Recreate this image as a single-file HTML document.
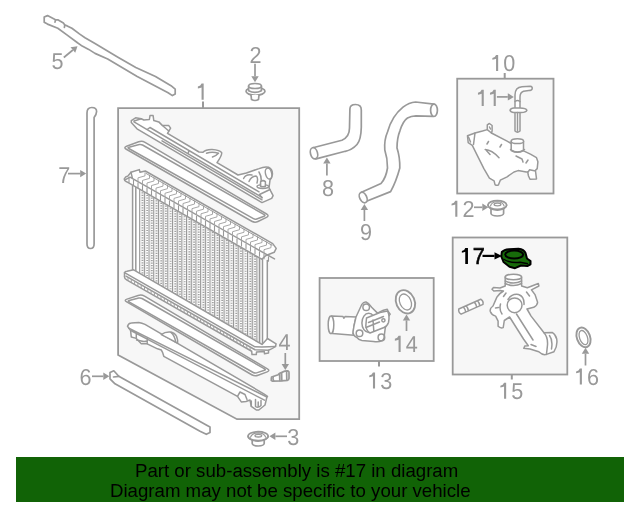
<!DOCTYPE html>
<html><head><meta charset="utf-8"><style>
html,body{margin:0;padding:0;background:#fff;width:640px;height:512px;overflow:hidden}
svg{position:absolute;left:0;top:0}
.banner{position:absolute;left:16px;top:457px;width:608px;height:45px;background:#116306}
.t{will-change:transform;position:absolute;font-family:"Liberation Sans",sans-serif;font-size:18.65px;color:#000;white-space:nowrap;line-height:20px}
</style></head><body>
<div class="banner"></div>
<div class="t" id="l1" style="left:135.2px;top:460.6px">Part or sub-assembly is #17 in diagram</div>
<div class="t" id="l2" style="left:110.3px;top:480.6px">Diagram may not be specific to your vehicle</div>
<svg width="640" height="512" viewBox="0 0 640 512" style="will-change:transform">
<g fill="#f7f7f7" stroke="#999" stroke-width="1.8">
<polygon points="118.1,108.1 299.2,108.1 299.2,419.2 237,419.2 118.1,355"/>
<rect x="457.2" y="78.7" width="96.3" height="114.8"/>
<rect x="319.6" y="278" width="114.1" height="83"/>
<rect x="452.7" y="237.5" width="114.6" height="137"/>
</g>
<g stroke="#999" stroke-width="2">
<line x1="203" y1="101.5" x2="203" y2="108"/>
<line x1="504.7" y1="73" x2="504.7" y2="79"/>
<line x1="379" y1="361" x2="379" y2="366.5"/>
<line x1="511.8" y1="374.5" x2="511.8" y2="379.5"/>
</g>
<g font-family="Liberation Sans" style="text-rendering:geometricPrecision">
<path d="M201.57,83.53 L203.67,83.53 L203.67,99.70 L201.57,99.70 L201.57,87.43 Q200.40,88.03 197.87,88.43 L197.87,86.53 Q200.76,85.83 201.57,83.53 Z" fill="#999"/>
<text transform="translate(255.60 62.90) scale(0.94 1)" text-anchor="middle" font-size="23" fill="#999">2</text>
<text transform="translate(293.30 445.40) scale(0.94 1)" text-anchor="middle" font-size="23" fill="#999">3</text>
<text transform="translate(284.50 350.00) scale(0.94 1)" text-anchor="middle" font-size="23" fill="#999">4</text>
<text transform="translate(57.50 69.20) scale(0.94 1)" text-anchor="middle" font-size="23" fill="#999">5</text>
<text transform="translate(85.40 385.40) scale(0.94 1)" text-anchor="middle" font-size="23" fill="#999">6</text>
<text transform="translate(64.30 183.10) scale(0.94 1)" text-anchor="middle" font-size="23" fill="#999">7</text>
<text transform="translate(328.00 196.40) scale(0.94 1)" text-anchor="middle" font-size="23" fill="#999">8</text>
<text transform="translate(366.00 240.40) scale(0.94 1)" text-anchor="middle" font-size="23" fill="#999">9</text>
<path d="M496.06,54.93 L498.16,54.93 L498.16,71.10 L496.06,71.10 L496.06,58.83 Q494.89,59.43 492.36,59.83 L492.36,57.93 Q495.25,57.23 496.06,54.93 Z" fill="#999"/>
<text transform="translate(509.31 71.40) scale(0.94 1)" text-anchor="middle" font-size="23" fill="#999">0</text>
<path d="M481.66,89.73 L483.76,89.73 L483.76,105.90 L481.66,105.90 L481.66,93.63 Q480.49,94.23 477.96,94.63 L477.96,92.73 Q480.85,92.03 481.66,89.73 Z" fill="#999"/>
<path d="M493.68,89.73 L495.78,89.73 L495.78,105.90 L493.68,105.90 L493.68,93.63 Q492.51,94.23 489.98,94.63 L489.98,92.73 Q492.87,92.03 493.68,89.73 Z" fill="#999"/>
<path d="M455.26,200.63 L457.36,200.63 L457.36,216.80 L455.26,216.80 L455.26,204.53 Q454.09,205.13 451.56,205.53 L451.56,203.63 Q454.45,202.93 455.26,200.63 Z" fill="#999"/>
<text transform="translate(468.51 217.10) scale(0.94 1)" text-anchor="middle" font-size="23" fill="#999">2</text>
<path d="M372.96,372.43 L375.06,372.43 L375.06,388.60 L372.96,388.60 L372.96,376.33 Q371.79,376.93 369.26,377.33 L369.26,375.43 Q372.15,374.73 372.96,372.43 Z" fill="#999"/>
<text transform="translate(386.21 388.90) scale(0.94 1)" text-anchor="middle" font-size="23" fill="#999">3</text>
<path d="M398.56,335.73 L400.66,335.73 L400.66,351.90 L398.56,351.90 L398.56,339.63 Q397.39,340.23 394.86,340.63 L394.86,338.73 Q397.75,338.03 398.56,335.73 Z" fill="#999"/>
<text transform="translate(411.81 352.20) scale(0.94 1)" text-anchor="middle" font-size="23" fill="#999">4</text>
<path d="M504.06,382.68 L506.16,382.68 L506.16,398.85 L504.06,398.85 L504.06,386.58 Q502.89,387.18 500.36,387.58 L500.36,385.68 Q503.25,384.98 504.06,382.68 Z" fill="#999"/>
<text transform="translate(517.31 399.15) scale(0.94 1)" text-anchor="middle" font-size="23" fill="#999">5</text>
<path d="M579.81,368.43 L581.91,368.43 L581.91,384.60 L579.81,384.60 L579.81,372.33 Q578.64,372.93 576.11,373.33 L576.11,371.43 Q579.00,370.73 579.81,368.43 Z" fill="#999"/>
<text transform="translate(593.06 384.90) scale(0.94 1)" text-anchor="middle" font-size="23" fill="#999">6</text>
<path d="M465.26,247.93 L467.96,247.93 L467.96,264.10 L465.26,264.10 L465.26,251.83 Q464.39,252.43 461.86,252.83 L461.86,250.93 Q464.75,250.23 465.26,247.93 Z" fill="#000"/>
<text transform="translate(478.81 264.40) scale(0.94 1)" text-anchor="middle" font-size="23" fill="#000" stroke="#000" stroke-width="0.6">7</text>
</g>
<line x1="255.00" y1="63.80" x2="255.00" y2="76.20" stroke="#999" stroke-width="1.7"/>
<polygon points="255.00,82.20 251.30,76.20 258.70,76.20" fill="#999" stroke="none"/>
<line x1="287.00" y1="436.30" x2="275.40" y2="436.30" stroke="#999" stroke-width="1.7"/>
<polygon points="269.40,436.30 275.40,432.60 275.40,440.00" fill="#999" stroke="none"/>
<line x1="285.30" y1="353.00" x2="285.30" y2="364.00" stroke="#999" stroke-width="1.7"/>
<polygon points="285.30,370.00 281.60,364.00 289.00,364.00" fill="#999" stroke="none"/>
<line x1="63.80" y1="57.50" x2="72.87" y2="50.02" stroke="#999" stroke-width="1.7"/>
<polygon points="77.50,46.20 75.23,52.87 70.52,47.16" fill="#999" stroke="none"/>
<line x1="92.00" y1="376.30" x2="103.30" y2="376.30" stroke="#999" stroke-width="1.7"/>
<polygon points="109.30,376.30 103.30,380.00 103.30,372.60" fill="#999" stroke="none"/>
<line x1="68.00" y1="173.60" x2="80.20" y2="173.60" stroke="#999" stroke-width="1.7"/>
<polygon points="86.20,173.60 80.20,177.30 80.20,169.90" fill="#999" stroke="none"/>
<line x1="326.90" y1="175.60" x2="326.90" y2="163.40" stroke="#999" stroke-width="1.7"/>
<polygon points="326.90,157.40 330.60,163.40 323.20,163.40" fill="#999" stroke="none"/>
<line x1="364.40" y1="221.00" x2="364.40" y2="210.00" stroke="#999" stroke-width="1.7"/>
<polygon points="364.40,204.00 368.10,210.00 360.70,210.00" fill="#999" stroke="none"/>
<line x1="496.90" y1="96.90" x2="507.80" y2="96.90" stroke="#999" stroke-width="1.7"/>
<polygon points="513.80,96.90 507.80,100.60 507.80,93.20" fill="#999" stroke="none"/>
<line x1="474.00" y1="207.30" x2="482.30" y2="207.30" stroke="#999" stroke-width="1.7"/>
<polygon points="488.30,207.30 482.30,211.00 482.30,203.60" fill="#999" stroke="none"/>
<line x1="406.50" y1="331.00" x2="406.50" y2="320.40" stroke="#999" stroke-width="1.7"/>
<polygon points="406.50,314.40 410.20,320.40 402.80,320.40" fill="#999" stroke="none"/>
<line x1="585.50" y1="365.50" x2="585.50" y2="353.80" stroke="#999" stroke-width="1.7"/>
<polygon points="585.50,347.80 589.20,353.80 581.80,353.80" fill="#999" stroke="none"/>
<line x1="482.50" y1="255.90" x2="494.50" y2="255.90" stroke="#000" stroke-width="2.2"/>
<polygon points="502.00,255.90 494.50,259.50 494.50,252.30" fill="#000" stroke="none"/>
<g fill="none" stroke="#999" stroke-width="1.7" stroke-linejoin="round" stroke-linecap="round">
<path fill="#fff" d="M44.2,17 L47.5,15.6 L55.5,19.8 L57.8,19.8 L63.4,23.1 L64.8,25 L67.2,25.9 L71.9,28.3 L79.4,33.9 L85,37.7 L95,43.5 L117.5,56.9 L135.8,67.4 L155.5,76.6 L171,85.7 L175.2,89.2 L175.2,94.1 L172.4,95.6 L168.1,92.7 L137.2,76.6 L107.7,59 L95,53.4 L88.7,49.4 L82.2,46.1 L77.5,42.8 L66.2,34.4 L57.8,28.3 L47.5,24.1 L44.2,22.2 Z"/>
<path d="M55.5,19.8 L55,22.2 M64.8,25 L64.4,27.3"/>
<path fill="#fff" d="M87,244 L87,113 Q87,107.5 91.8,107.5 Q96.6,107.5 96.6,111.5 Q96.6,114 94.1,117.6 L94.1,244 Q94.1,248.5 90.5,248.5 Q87,248.5 87,244 Z"/>
<path fill="#fff" d="M110,372.5 L113.8,370.8 L118.8,376.3 L206.3,425 L210,427 L210,432.5 L206.3,434.3 L200,431.3 L115,383.8 L110,378.8 Z"/>
<path d="M113.5,377 L118.8,376.3"/>
<ellipse cx="255.5" cy="91.3" rx="9.5" ry="4" fill="#fff"/>
<path fill="#fff" d="M248.6,86 L248.6,90.8 Q255,94 261.4,90.8 L261.4,86 Z"/>
<ellipse cx="255" cy="86" rx="6.4" ry="2.5" fill="#fff"/>
<path fill="#fff" d="M251,95 L251.5,99.5 Q255,101.5 258.5,99.5 L259,95"/>
<path fill="#fff" d="M252.2,438 L252.2,443.5 Q252.5,445.8 258.2,446 Q263.9,445.8 264.2,443.5 L264.2,438 Z"/>
<path fill="#fff" d="M248.1,436.3 Q248.3,440.3 258.1,441.2 Q267.9,440.3 268.1,436.3"/>
<ellipse cx="258.1" cy="436.1" rx="10" ry="4.4" fill="#fff"/>
<path d="M250.5,437.3 Q252,433 258.1,432.9 Q264.2,433 265.7,437.3" stroke-width="1.1"/>
<ellipse cx="258.3" cy="435.7" rx="3.4" ry="1.3" stroke-width="1.3"/>
<path fill="#fff" d="M491,208 L491,213.5 Q491.3,215.8 497.3,216 Q503.3,215.8 503.6,213.5 L503.6,208 Z"/>
<path fill="#fff" d="M488,205.2 Q488.3,209.3 497.3,210.2 Q506.3,209.3 506.6,205.2"/>
<ellipse cx="497.3" cy="205" rx="9.3" ry="4.4" fill="#fff"/>
<path d="M490.5,206 Q491.5,202 497.3,201.8 Q503.1,202 504.1,206" stroke-width="1.1"/>
<ellipse cx="497.5" cy="204.5" rx="3.4" ry="1.3" stroke-width="1.3"/>
<path fill="#fff" d="M271.6,377 L278.2,374.7 L279.8,373.2 L284.8,371.1 L288,370.9 Q289.3,371.8 289,372.8 L289,378.4 Q288.8,380 287.6,380.3 L281,380.8 L272.6,381.2 Q270.8,380.6 271.2,379.4 Z"/>
<path d="M279.6,374 L279.8,380.8 M281.6,373 L281.8,380.6 M286.6,371.2 L286.8,379.8 M273.2,377.2 Q272.5,379 273.6,380.5"/>
<path fill="#fff" d="M312.9,147.7 L341.9,140.2 Q349.5,137 349.5,128 L349.9,109 Q350,104.5 355.5,104.5 Q361.3,104.5 361.3,110 L361.3,127.3 Q361,140 357,144.5 Q352,150 345.2,151.3 L316.1,158.9 Z"/>
<ellipse cx="314" cy="153.3" rx="3.5" ry="5.7" transform="rotate(-15 314 153.3)" fill="#fff"/>
<path fill="#fff" d="M361.5,192.3 L381,183.5 Q386,178 387.5,168 Q387.5,158 384.8,150 Q384,140 387.5,132 Q392,116 403,107.2 Q409,102.5 415.6,102 L434,104.2 L433.2,116.4 L416,115.8 Q411,116 407.5,118 Q403,121 400,130.6 Q397,138 397,148 Q400,157 399.8,168 Q396,182 390.6,191.6 L365.2,201.8 Z"/>
<ellipse cx="434" cy="110.3" rx="3.4" ry="6.2" fill="#fff"/>
<ellipse cx="363.2" cy="197.5" rx="3.5" ry="5.6" transform="rotate(-25 363.2 197.5)" fill="#fff"/>
</g>
<g fill="none" stroke="#999" stroke-width="1.5" stroke-linejoin="round" stroke-linecap="round">
<path fill="#fff" d="M467.5,135.8 L475,133 L482.5,131 L487.3,129.6 L487.3,124.8 L489.4,123.5 L492.1,125.5 L492.1,131 L491.4,133 L507.1,141.2 L511.2,143.5 L523.5,150.8 L530.4,154.2 L536.5,157.7 L537.9,161.8 L537.2,168.6 L534.5,171.3 L526.3,172 L518.1,170.6 L514,172 L507.1,176.8 L500.3,180.2 L498.5,184.8 Q496.9,186 495,184.6 L494.1,180.9 L489.4,178.2 L483.9,168.6 L477,154.9 L472.3,145.4 L468.2,142.6 Z"/>
<path d="M468.5,137 L470.5,142 M475,133 L473.5,144.5 M487.3,129.6 L491.4,133 M489.5,127 L490.5,129"/>
<path fill="#fff" d="M511.2,141.2 L511.2,150.5 Q517.4,154 523.5,150.5 L523.5,141.2 Z"/>
<ellipse cx="517.4" cy="141.2" rx="6.2" ry="2.4" fill="#fff"/>
<path d="M510.5,149.5 Q517.4,154.5 524.5,149.5"/>
<path d="M485.2,149.5 Q492,150 499,157.7 M486,150 L490,154.5 M487,144 L488.5,141.5 M500,147 L501.5,144.5 M516,156 L522,159 L523,162 M528,160 L526,163"/>
<path fill="#fff" d="M527.8,172.5 L529.5,169.8 L535.5,171 L536.5,178.9 L530,179.2 L528.5,176 Z"/>
<path fill="#fff" d="M515,131 L515,95 Q515,87.2 522,86.7 L530.2,86.2 Q532.5,86.5 532.2,88.8 Q531.7,90.6 528.8,90.6 L523.5,91.2 Q520,92.5 520,97 L520,131 Q517.5,133.2 515,131 Z"/>
<path fill="#fff" d="M510,110.3 Q511,107.5 515,108 L520,108 Q526,108 526.9,110.3 Q526,112.8 520,112.5 L515,112.5 Q511,113 510,110.3 Z"/>
<path d="M515,101.5 Q517.5,99.5 520,101.5 M517.5,112.5 L517.5,131"/>
</g>
<g fill="none" stroke="#999" stroke-width="1.5" stroke-linejoin="round" stroke-linecap="round">
<path fill="#fff" d="M331.6,316 L343,316.5 L343.8,318.3 L345,316.6 L356,317 L354,325.8 L353.1,333.6 L357,333.5 L357,335.5 L332.6,333.6 Z"/>
<ellipse cx="331" cy="324.8" rx="2.8" ry="8.9" fill="#fff"/>
<path fill="#fff" d="M356,317 L361.9,304.3 Q363.5,301.8 366,302 Q369.5,303.5 371.6,307.2 L377.5,313.1 L383.4,310.2 L387.3,309.2 L388.2,311.5 L390.2,314.1 L388,317 L387.5,322 L385.3,327.7 L384.3,335.5 Q384.5,339.5 382.4,340.6 Q378,342.5 373.6,341.4 L361.9,340.4 Q358.5,339.8 357,337.5 Q352.5,335.5 353.1,331.5 L354,325.8 Z"/>
<circle cx="366.2" cy="307.2" r="3.3"/><circle cx="359.5" cy="333.2" r="3.3"/><circle cx="381.4" cy="337.4" r="3.3"/>
<ellipse cx="368.7" cy="322.9" rx="6.8" ry="9.6" fill="#fff"/>
<path fill="#fff" d="M366.5,318 L380,312.5 L387.5,311 Q390,316 388.5,322.5 Q387,326.5 384,327.5 L370,333 Q366.5,331 365.8,326 Z"/>
<path d="M368.5,322.5 L383.5,316.5 M373,320 L373.8,331 M366,327.5 L379.5,322"/>
<circle cx="383.4" cy="320.3" r="1.6"/>
<ellipse cx="405.4" cy="301.8" rx="9.2" ry="12.1" transform="rotate(-24 405.4 301.8)" fill="#fff" stroke-width="1.9"/>
<ellipse cx="405.4" cy="302" rx="5.6" ry="8.4" transform="rotate(-24 405.4 302)" stroke-width="1.3"/>
</g>
<g fill="none" stroke="#999" stroke-width="1.5" stroke-linejoin="round" stroke-linecap="round">
<g transform="translate(470.9 306.7) rotate(-24)"><path fill="#fff" d="M-12,-2.8 L12,-2.8 Q14,0 12,2.8 L-12,2.8 Q-14,0 -12,-2.8 Z M-7,-2.8 Q-6,0 -7,2.8 M-4,-2.8 Q-3,0 -4,2.8 M5,-2.8 Q6,0 5,2.8 M8.5,-2.8 Q9.5,0 8.5,2.8"/></g>
<path fill="#fff" d="M505.2,277 L505.2,286 L500,288 L493.5,287.6 L492,289.3 L493.8,291 L500,290.5 L503.5,291 Q499,293.5 496.9,297.1 L493,306 Q489.5,308.5 490.3,311.5 Q491.5,315 495.6,316.1 L498.1,321.2 L498.1,326.3 Q500.5,328.6 503.2,327.6 L504.3,320.5 L509.6,317 L523.5,339 L528.3,345.8 L524.8,346 L523.8,348.3 L530,349 L538.8,351.7 Q543,355.6 546.4,354.4 L554,351.7 Q557.8,346 556.7,339 Q555.6,334.3 552.5,332.6 L544,332.8 L531.1,316.1 L527,309 L533.7,307.3 Q537.6,305 537.6,302.2 L535,294.6 L531.4,289.8 L538.9,286 L538.3,283.5 L527.3,287.8 L521.6,286 L521.6,277 Z"/>
<ellipse cx="513.4" cy="277" rx="8.2" ry="2.8" fill="#fff"/>
<path d="M505.2,281 Q513.4,285 521.6,281 M505.2,283.5 Q513.4,287.5 521.6,283.5"/>
<circle cx="514.6" cy="305.3" r="7.4" fill="#fff"/>
<path d="M508,299.5 Q511.5,293.5 518.5,294.5 Q524.5,296.5 524,304.5 M503.5,296.5 L506,293 M500.5,304 Q499,310 502,314 M526.5,292 L529.5,296 M516.5,314 L533,340 M544,332.8 Q548,337 547.5,345 Q547,350 546.4,354.4 M549.5,335.5 Q553,340 551.5,349 M531,344.5 L536,346.5 M498.5,307.5 L495.5,308"/>
<ellipse cx="583.5" cy="337.4" rx="6.6" ry="10.2" transform="rotate(-20 583.5 337.4)" fill="#fff" stroke-width="1.9"/>
<ellipse cx="583.5" cy="337.6" rx="3.9" ry="7.4" transform="rotate(-20 583.5 337.6)" stroke-width="1.3"/>
</g>
<g stroke="#000" stroke-width="2" stroke-linejoin="round">
<path fill="#176b0a" d="M501.8,252 Q504,249.5 509,249.2 L518.5,248.8 Q524,249.5 525.5,253 L527,258.5 L530.5,261 L530.5,264.3 L527.3,266 L521,265.5 L515,268.2 L509.5,266.8 L503.5,262 L501.3,256.5 Z"/>
<ellipse cx="514.2" cy="254.6" rx="9" ry="4" fill="#176b0a"/>
<path fill="none" stroke-width="1.5" d="M503.3,259 Q510,263.5 520,262.3 L528,263.8"/>
</g>
<g fill="none" stroke="#999" stroke-width="1.5" stroke-linejoin="round" stroke-linecap="round">
<path fill="#fff" d="M131.3,120.6 L135.6,117.8 L141.3,118.8 L143.8,120 L149.4,119.4 L150,115.6 L153.1,115.6 L153.8,120.6 L158.8,121.9 L162.5,125.6 L168.8,125.6 L170.6,128.1 L167.5,133.43 L199,152.01 L203,152.3 Q205.5,149.3 212,149.4 Q220,149.8 221.8,152.8 Q221.5,156.5 217,162.63 L238,175.02 L246.4,173 L259,168.6 Q264.7,166.3 268.5,167.3 Q272.8,169.3 272.4,174.5 Q272,177.5 270,180 L269,187.8 L273.1,195.6 L271.7,198.4 L262,202.58 L137,128.83 L131.3,122.5 Z"/>
<path d="M150,127.50 L259,191.81 M134,121.86 L262,197.38 M162,140.78 L262,199.78 M141.3,118.8 L134,121 M163,126 L168.8,131 M150,127.50 L147,129.53 M189,150.51 L188,153.72"/>
<path d="M206.5,153.3 Q212,151 218.5,153.3 Q216,156 212.5,157"/>
<ellipse cx="268.6" cy="173.6" rx="3.1" ry="5.6" transform="rotate(-15 268.6 173.6)"/>
<path d="M243.6,178.5 Q246,173.8 252,175 M249,181.5 Q251,176.5 256,176 Q258.5,177 257,183 M259,172 Q262.5,178 260.5,184 M262,198 L259.5,194.5 L270,189.5"/>
<ellipse cx="262.8" cy="186.6" rx="5.8" ry="1.8" fill="#fff"/>
<path fill="#fff" d="M260.6,186.2 L260.6,181.6 Q263,179.6 265.4,181.6 L265.4,186.2 Q263,187.3 260.6,186.2 Z"/>
<path fill="#fff" d="M126.34,149.24 Q123.30,147.50 126.58,146.27 L138.72,141.73 Q142.00,140.50 145.01,142.28 L266.59,214.02 Q269.60,215.80 266.45,217.33 L257.95,221.47 Q254.80,223.00 251.76,221.26 Z"/>
<path d="M128.77,148.48 Q127.20,147.60 128.94,147.16 L139.26,144.54 Q141.00,144.10 142.56,144.99 L264.24,214.71 Q265.80,215.60 264.11,216.23 L256.69,218.97 Q255.00,219.60 253.43,218.72 Z"/>
<path fill="#fff" stroke="none" d="M133,185.38 L267,261.22 L267,347.29 L133,270.91 Z"/>
<path stroke-width="1.15" stroke="#999" d="M139.67,189.15 L139.67,274.71 M144.36,191.81 L144.36,277.39 M149.05,194.46 L149.05,280.06 M153.74,197.12 L153.74,282.73 M158.43,199.77 L158.43,285.41 M163.12,202.43 L163.12,288.08 M167.81,205.08 L167.81,290.75 M172.50,207.73 L172.50,293.43 M177.19,210.39 L177.19,296.10 M181.88,213.04 L181.88,298.77 M186.57,215.70 L186.57,301.44 M191.26,218.35 L191.26,304.12 M195.95,221.01 L195.95,306.79 M200.64,223.66 L200.64,309.46 M205.33,226.32 L205.33,312.14 M210.02,228.97 L210.02,314.81 M214.71,231.63 L214.71,317.48 M219.40,234.28 L219.40,320.16 M224.09,236.93 L224.09,322.83 M228.78,239.59 L228.78,325.50 M233.47,242.24 L233.47,328.18 M238.16,244.90 L238.16,330.85 M242.85,247.55 L242.85,333.52 M247.54,250.21 L247.54,336.20 M252.23,252.86 L252.23,338.87 M256.92,255.52 L256.92,341.54"/>
<path stroke-width="0.8" stroke="#e2e2e2" d="M140.97,189.89 L140.97,275.45 M145.66,192.54 L145.66,278.13 M150.35,195.20 L150.35,280.80 M155.04,197.85 L155.04,283.47 M159.73,200.51 L159.73,286.15 M164.42,203.16 L164.42,288.82 M169.11,205.82 L169.11,291.49 M173.80,208.47 L173.80,294.17 M178.49,211.13 L178.49,296.84 M183.18,213.78 L183.18,299.51 M187.87,216.43 L187.87,302.19 M192.56,219.09 L192.56,304.86 M197.25,221.74 L197.25,307.53 M201.94,224.40 L201.94,310.21 M206.63,227.05 L206.63,312.88 M211.32,229.71 L211.32,315.55 M216.01,232.36 L216.01,318.23 M220.70,235.02 L220.70,320.90 M225.39,237.67 L225.39,323.57 M230.08,240.33 L230.08,326.25 M234.77,242.98 L234.77,328.92 M239.46,245.63 L239.46,331.59 M244.15,248.29 L244.15,334.27 M248.84,250.94 L248.84,336.94 M253.53,253.60 L253.53,339.61 M258.22,256.25 L258.22,342.29"/>
<path stroke-width="1.8" stroke="#a0a0a0" stroke-linecap="butt" stroke-dasharray="1.2 1.3" d="M142.47,192.24 L142.47,275.31 M147.16,194.89 L147.16,277.98 M151.85,197.55 L151.85,280.65 M156.54,200.20 L156.54,283.33 M161.23,202.86 L161.23,286.00 M165.92,205.51 L165.92,288.67 M170.61,208.17 L170.61,291.35 M175.30,210.82 L175.30,294.02 M179.99,213.47 L179.99,296.69 M184.68,216.13 L184.68,299.37 M189.37,218.78 L189.37,302.04 M194.06,221.44 L194.06,304.71 M198.75,224.09 L198.75,307.39 M203.44,226.75 L203.44,310.06 M208.13,229.40 L208.13,312.73 M212.82,232.06 L212.82,315.41 M217.51,234.71 L217.51,318.08 M222.20,237.37 L222.20,320.75 M226.89,240.02 L226.89,323.43 M231.58,242.67 L231.58,326.10 M236.27,245.33 L236.27,328.77 M240.96,247.98 L240.96,331.45 M245.65,250.64 L245.65,334.12 M250.34,253.29 L250.34,336.79 M255.03,255.95 L255.03,339.47"/>
<path fill="#fff" d="M132.6,184.15 L132.6,271.68 M135.8,186.96 L135.8,272.51"/>
<path fill="#fff" d="M259.6,257.03 L259.6,343.07 L262.5,345.73 L262.5,258.68 M267.3,260.39 L267.3,345.46"/>
<path fill="#fff" d="M124.3,178.9 Q125.5,176.5 128,176 L131,172.3 L139.3,169.6 L140,172.3 L145.3,171.02 L272.7,243.64 L276.2,248.4 L274.2,252.3 L266,255.5 L261.7,259.22 L126.5,181.70 Q124,180.5 124.3,178.9 Z"/>
<path d="M125.5,179.68 L130,177.18 L274.5,258.97 M131,172.3 L132.5,178.60"/>
<path stroke-width="0.95" stroke="#a2a2a2" d="M138.00,181.21 L138.00,177.86 L145.00,175.85 L145.00,172.65 M142.50,183.76 L142.50,180.42 L149.50,178.41 L149.50,175.22 M147.00,186.30 L147.00,182.99 L154.00,180.98 L154.00,177.78 M151.50,188.85 L151.50,185.56 L158.50,183.54 L158.50,180.34 M156.00,191.40 L156.00,188.12 L163.00,186.11 L163.00,182.91 M160.50,193.94 L160.50,190.69 L167.50,188.67 L167.50,185.47 M165.00,196.49 L165.00,193.25 L172.00,191.24 L172.00,188.04 M169.50,199.04 L169.50,195.81 L176.50,193.80 L176.50,190.60 M174.00,201.58 L174.00,198.38 L181.00,196.37 L181.00,193.17 M178.50,204.13 L178.50,200.94 L185.50,198.94 L185.50,195.74 M183.00,206.68 L183.00,203.51 L190.00,201.50 L190.00,198.30 M187.50,209.23 L187.50,206.07 L194.50,204.06 L194.50,200.87 M192.00,211.77 L192.00,208.64 L199.00,206.63 L199.00,203.43 M196.50,214.32 L196.50,211.20 L203.50,209.19 L203.50,206.00 M201.00,216.87 L201.00,213.77 L208.00,211.76 L208.00,208.56 M205.50,219.41 L205.50,216.33 L212.50,214.32 L212.50,211.12 M210.00,221.96 L210.00,218.90 L217.00,216.89 L217.00,213.69 M214.50,224.51 L214.50,221.46 L221.50,219.45 L221.50,216.25 M219.00,227.05 L219.00,224.03 L226.00,222.02 L226.00,218.82 M223.50,229.60 L223.50,226.59 L230.50,224.58 L230.50,221.38 M228.00,232.15 L228.00,229.16 L235.00,227.15 L235.00,223.95 M232.50,234.70 L232.50,231.72 L239.50,229.71 L239.50,226.51 M237.00,237.24 L237.00,234.29 L244.00,232.28 L244.00,229.08 M241.50,239.79 L241.50,236.85 L248.50,234.84 L248.50,231.64 M246.00,242.34 L246.00,239.42 L253.00,237.41 L253.00,234.21 M250.50,244.88 L250.50,241.98 L257.50,239.97 L257.50,236.78 M255.00,247.43 L255.00,244.55 L262.00,242.54 L262.00,239.34 M259.50,249.98 L259.50,247.11 L266.50,245.10 L266.50,241.91 M264.00,252.52 L264.00,249.68 L271.00,247.67 L271.00,244.47"/>
<path stroke-width="1.0" d="M146,173.42 L272,245.24"/>
<path stroke-width="1.1" d="M129.00,177.81 L129.00,182.31 M133.50,180.36 L133.50,184.86 M138.00,182.91 L138.00,187.41 M142.50,185.46 L142.50,189.96 M147.00,188.00 L147.00,192.50 M151.50,190.55 L151.50,195.05 M156.00,193.10 L156.00,197.60 M160.50,195.64 L160.50,200.14 M165.00,198.19 L165.00,202.69 M169.50,200.74 L169.50,205.24 M174.00,203.28 L174.00,207.78 M178.50,205.83 L178.50,210.33 M183.00,208.38 L183.00,212.88 M187.50,210.93 L187.50,215.43 M192.00,213.47 L192.00,217.97 M196.50,216.02 L196.50,220.52 M201.00,218.57 L201.00,223.07 M205.50,221.11 L205.50,225.61 M210.00,223.66 L210.00,228.16 M214.50,226.21 L214.50,230.71 M219.00,228.75 L219.00,233.25 M223.50,231.30 L223.50,235.80 M228.00,233.85 L228.00,238.35 M232.50,236.40 L232.50,240.90 M237.00,238.94 L237.00,243.44 M241.50,241.49 L241.50,245.99 M246.00,244.04 L246.00,248.54 M250.50,246.58 L250.50,251.08 M255.00,249.13 L255.00,253.63 M259.50,251.68 L259.50,256.18 M264.00,254.22 L264.00,258.72 M268.50,256.77 L268.50,261.27"/>
<path fill="#fff" d="M124.5,272.7 Q125,271.3 127,271.2 L133.7,269.8 L262,344.44 L267.5,338.5 L276.1,343.8 L275.5,346.5 Q272,349 268.5,350.3 L268.5,353 L264.5,353.8 L264.3,351.5 L256.5,352 L256.3,354.6 L252,354.6 L251.7,351.27 L127,280.19 Q124,278.5 124.5,276 Z"/>
<path d="M124.5,272.7 L255,346.85 Q266,347.15 275.5,346.5 M126,276.22 L255,349.75 Q262,349.95 268.5,350.3"/>
<path stroke-width="1.0" stroke="#a0a0a0" d="M128.00,277.86 L128.00,280.16 M131.30,279.74 L131.30,282.04 M134.60,281.62 L134.60,283.92 M137.90,283.50 L137.90,285.80 M141.20,285.38 L141.20,287.68 M144.50,287.27 L144.50,289.56 M147.80,289.15 L147.80,291.45 M151.10,291.03 L151.10,293.33 M154.40,292.91 L154.40,295.21 M157.70,294.79 L157.70,297.09 M161.00,296.67 L161.00,298.97 M164.30,298.55 L164.30,300.85 M167.60,300.43 L167.60,302.73 M170.90,302.31 L170.90,304.61 M174.20,304.19 L174.20,306.49 M177.50,306.08 L177.50,308.38 M180.80,307.96 L180.80,310.26 M184.10,309.84 L184.10,312.14 M187.40,311.72 L187.40,314.02 M190.70,313.60 L190.70,315.90 M194.00,315.48 L194.00,317.78 M197.30,317.36 L197.30,319.66 M200.60,319.24 L200.60,321.54 M203.90,321.12 L203.90,323.42 M207.20,323.00 L207.20,325.30 M210.50,324.89 L210.50,327.19 M213.80,326.77 L213.80,329.07 M217.10,328.65 L217.10,330.95 M220.40,330.53 L220.40,332.83 M223.70,332.41 L223.70,334.71 M227.00,334.29 L227.00,336.59 M230.30,336.17 L230.30,338.47 M233.60,338.05 L233.60,340.35 M236.90,339.93 L236.90,342.23 M240.20,341.81 L240.20,344.11 M243.50,343.70 L243.50,346.00 M246.80,345.58 L246.80,347.88 M250.10,347.46 L250.10,349.76"/>
<path fill="#fff" d="M126.72,301.96 Q123.70,300.20 127.03,299.12 L138.17,295.48 Q141.50,294.40 144.51,296.18 L267.39,368.82 Q270.40,370.60 267.13,371.84 L258.07,375.26 Q254.80,376.50 251.78,374.74 Z"/>
<path d="M128.96,301.89 Q127.40,301.00 129.14,300.55 L138.76,298.05 Q140.50,297.60 142.06,298.50 L264.64,368.90 Q266.20,369.80 264.48,370.34 L256.52,372.86 Q254.80,373.40 253.24,372.51 Z"/>
<path fill="#fff" d="M127.5,326.3 Q128.5,323.2 131.3,323.1 L138.8,322.5 Q142,323 145,324.4 L263.8,393.8 L267.5,396.3 L266.9,397 L265,405 L258.8,410 L256.3,410 L251.3,406.3 L250,400 L246,401.5 L241.3,401.9 L237.5,396.3 L163.8,356.3 Q162.5,351.5 161.3,350 L157.5,348.8 L147.2,343.8 L141.3,343.8 L136.3,338.4 L131.3,337 L130.6,330.6 Z"/>
<path d="M128.8,328.1 L266.9,397 M131.3,330.8 L264.5,400.2 M136.3,338.4 L136.3,333.2 M147.2,343.8 L147.2,338.5 M136.6,340 L141.3,341 Q144,342 147,341 M251.3,401 L251.3,406.3 M255.5,399.5 L255.5,406.5 Q258,408.5 261,405.5 L261,400.5 M258.2,402 L258.2,406 M237.5,396.3 L240,392 L245,394.5 L247,399.5"/>
<path fill="#fff" d="M161.3,334.6 Q165,331.8 170,332.1 Q174.8,332.6 176.6,336.5 Q178,340 177.6,343.2 Z"/>
<path d="M171,332.4 Q175,336 175.6,342.2"/>
</g>
</svg>
</body></html>
